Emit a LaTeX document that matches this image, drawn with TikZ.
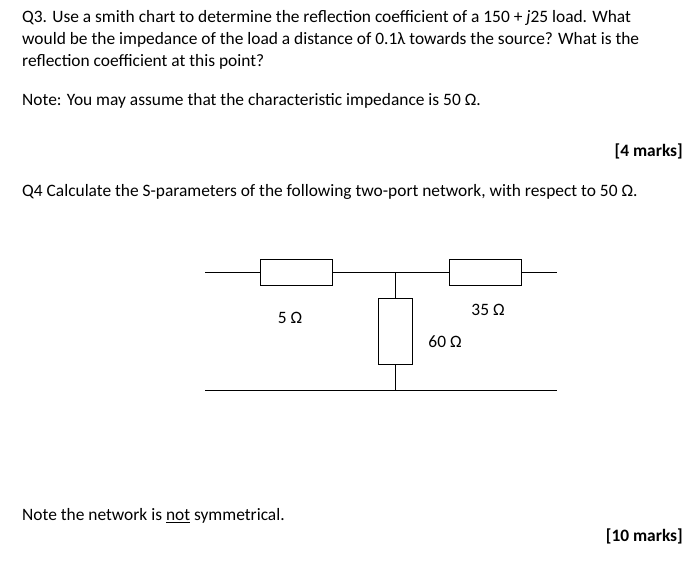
\documentclass[tikz,border=0pt]{standalone}
\usepackage{fontspec}
\setmainfont{Carlito}
\begin{document}
\begin{tikzpicture}[x=1pt,y=-1pt,
  txt/.style={anchor=west,inner sep=0pt,font=\fontsize{17.4}{20}\selectfont},
  res/.style={draw,line width=1pt,inner sep=0pt},
  wire/.style={line width=1pt}]
\useasboundingbox (0,0) rectangle (700,568);
\node[txt] (l1) at (22,18) {Q3. Use a smith chart to determine the reflection coefficient of a 150 + \textit{j}25 load. What};
\node[txt] (l2) at (22,40) {would be the impedance of the load a distance of 0.1λ towards the source? What is the};
\node[txt] (l3) at (22,62) {reflection coefficient at this point?};
\node[txt] (l4) at (22,101) {Note: You may assume that the characteristic impedance is 50 Ω.};
\node[txt,anchor=east] (m1) at (683,151) {\textbf{[4 marks]}};
\node[txt] (l5) at (22,192) {Q4 Calculate the S-parameters of the following two-port network, with respect to 50 Ω.};
\node[txt] (l6) at (22,516) {Note the network is \underline{not} symmetrical.};
\node[txt,anchor=east] (m2) at (683,536) {\textbf{[10 marks]}};
% circuit
\node[res,minimum width=72,minimum height=26] (r1) at (296,272) {};
\node[res,minimum width=72,minimum height=26] (r2) at (485,272) {};
\node[res,minimum width=34,minimum height=66] (r3) at (395,331) {};
\coordinate (a) at (205,272);
\coordinate (b) at (557,272);
\coordinate (j) at (395,272);
\coordinate (c) at (205,390);
\coordinate (d) at (557,390);
\coordinate (k) at (395,390);
\draw[wire] (a) -- (r1.west);
\draw[wire] (r1.east) -- (r2.west);
\draw[wire] (r2.east) -- (b);
\draw[wire] (j) -- (r3.north);
\draw[wire] (r3.south) -- (k);
\draw[wire] (c) -- (d);
\node[txt,anchor=center] (t1) at (290,318) {5 Ω};
\node[txt,anchor=center] (t2) at (488,310) {35 Ω};
\node[txt,anchor=center] (t3) at (445,342) {60 Ω};
\end{tikzpicture}
\end{document}
